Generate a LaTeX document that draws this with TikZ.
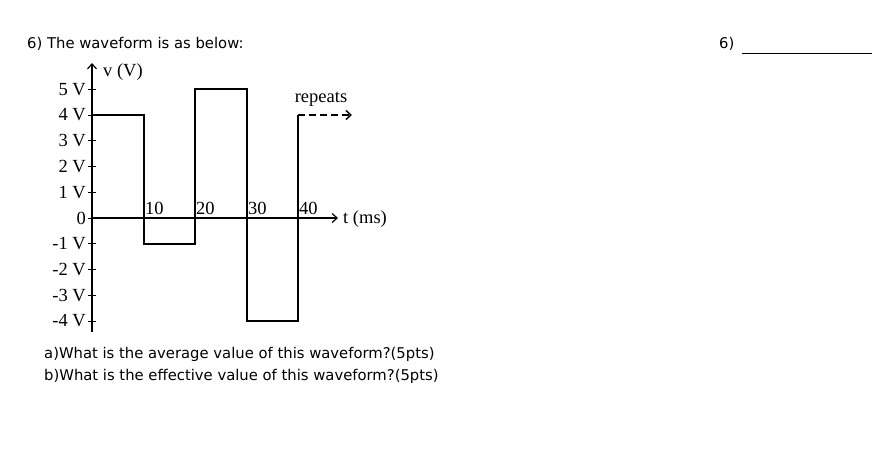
\documentclass[tikz,border=0pt]{standalone}
\usepackage{fontspec}
\usetikzlibrary{arrows.meta}
\setmainfont{Liberation Serif}
\newfontfamily\hdr{DejaVu Sans}
\begin{document}
\begin{tikzpicture}[x=1pt,y=-1pt,
  hd/.style={font=\hdr\fontsize{14.8}{17}\selectfont,anchor=west,inner sep=0},
  lb/.style={font=\fontsize{18.5}{20}\selectfont,inner sep=0},
  wave/.style={line width=1.4pt},
  axis/.style={line width=1.2pt}]
\useasboundingbox[fill=white] (0,0) rectangle (894,453);
\node[hd] (q) at (27,44) {6) The waveform is as below:};
\node[hd] (qn) at (719,44) {6)};
\coordinate (l1) at (742,53); \coordinate (l2) at (872,53);
\draw[line width=0.8pt] (l1) -- (l2);
% axes
\coordinate (yb) at (92,332); \coordinate (yt) at (92,63);
\coordinate (x0) at (92,218); \coordinate (xe) at (338,218);
\draw[axis,-{Straight Barb[length=5pt,width=9pt]}] (yb) -- (yt);
\draw[axis,-{Straight Barb[length=5pt,width=9pt]}] (x0) -- (xe);
\node[lb,anchor=west] (vl) at (103,72) {v (V)};
\node[lb,anchor=west] (tl) at (343,219) {t (ms)};
\foreach \v/\t in {5/5 V,4/4 V,3/3 V,2/2 V,1/1 V,0/0,-1/-1 V,-2/-2 V,-3/-3 V,-4/-4 V}{
  \pgfmathsetmacro\yy{218-25.75*\v}
  \draw[line width=1pt] (88,\yy) -- (96,\yy);
  \node[lb,anchor=east] at (86,\yy) {\t};
}
\foreach \t/\xx in {10/144,20/195,30/247,40/298}
  \node[lb,anchor=south west] at (\xx+1,215) {\t};
% waveform
\draw[wave] (92,115) -- (144,115) -- (144,244) -- (195,244) -- (195,89) -- (247,89) -- (247,321) -- (298,321) -- (298,115) coordinate (r0);
\coordinate (r1) at (352,115);
\draw[wave,dash pattern=on 7pt off 4pt,-{Straight Barb[length=5pt,width=9pt]}] (r0) -- (r1);
\node[lb,anchor=south] (rp) at (321,107) {repeats};
\node[hd] (qa) at (44,354) {a)What is the average value of this waveform?(5pts)};
\node[hd] (qb) at (44,376) {b)What is the effective value of this waveform?(5pts)};
\end{tikzpicture}
\end{document}
